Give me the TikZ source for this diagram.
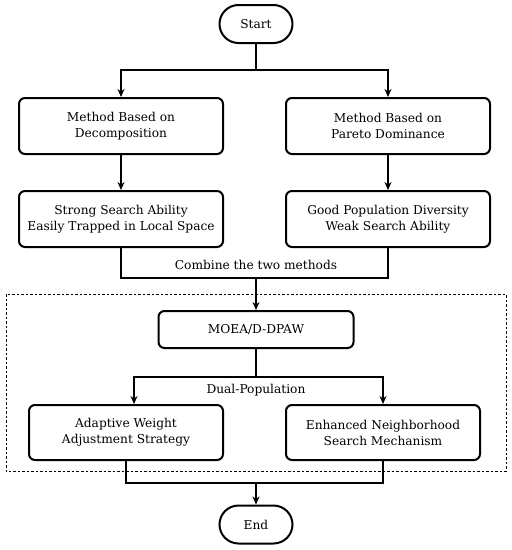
\documentclass[tikz,border=0pt]{standalone}
\usepackage{fontspec}
\setmainfont{DejaVu Serif}
\usetikzlibrary{arrows.meta,shapes.misc}
\begin{document}
\begin{tikzpicture}[x=1pt,y=-1pt,
  box/.style={draw,line width=2pt,rounded corners=6pt,align=center,font=\fontsize{12.2}{16}\selectfont,inner sep=0pt},
  term/.style={draw,line width=2pt,rounded rectangle,minimum width=73pt,minimum height=38pt,inner sep=0pt,font=\fontsize{12.2}{16}\selectfont},
  conn/.style={line width=1.2pt},
  arr/.style={conn,-{Stealth[length=8pt,width=7pt]}},
  lbl/.style={font=\fontsize{12.2}{16}\selectfont}]
\useasboundingbox (0,0) rectangle (512,550);
\draw[line width=1pt,dash pattern=on 2.5pt off 2pt] (6,294) rectangle (506,471);
\node[term] (start) at (256,24) {Start};
\node[box,minimum width=204pt,minimum height=56pt] (m1) at (121,126) {Method Based on\\Decomposition};
\node[box,minimum width=204pt,minimum height=56pt] (m2) at (388,126) {Method Based on\\Pareto Dominance};
\node[box,minimum width=204pt,minimum height=56pt] (s1) at (121,219) {Strong Search Ability\\Easily Trapped in Local Space};
\node[box,minimum width=204pt,minimum height=56pt] (s2) at (388,219) {Good Population Diversity\\Weak Search Ability};
\node[box,minimum width=195pt,minimum height=37pt] (moea) at (256,329.5) {MOEA/D-DPAW};
\node[box,minimum width=194pt,minimum height=55pt] (a1) at (126,432.5) {Adaptive Weight\\Adjustment Strategy};
\node[box,minimum width=194pt,minimum height=55pt] (a2) at (383,432.5) {Enhanced Neighborhood\\Search Mechanism};
\node[term] (end) at (256,524.5) {End};
\coordinate (j1) at (256,70);
\coordinate (j2) at (256,278);
\coordinate (j3) at (256,377);
\coordinate (j4) at (256,483);
\draw[conn] (start.south) -- (j1);
\draw[arr] (j1) -| (m1.north);
\draw[arr] (j1) -| (m2.north);
\draw[arr] (m1) -- (s1);
\draw[arr] (m2) -- (s2);
\draw[conn] (s1.south) |- (j2);
\draw[conn] (s2.south) |- (j2);
\node[lbl] (l1) at (256,265) {Combine the two methods};
\draw[arr] (j2) -- (moea.north);
\draw[conn] (moea.south) -- (j3);
\draw[arr] (j3) -| ([xshift=8pt]a1.north);
\draw[arr] (j3) -| (a2.north);
\node[lbl] (l2) at (256,390) {Dual-Population};
\draw[conn] (a1.south) |- (j4);
\draw[conn] (a2.south) |- (j4);
\draw[arr] (j4) -- (end.north);
\end{tikzpicture}
\end{document}
